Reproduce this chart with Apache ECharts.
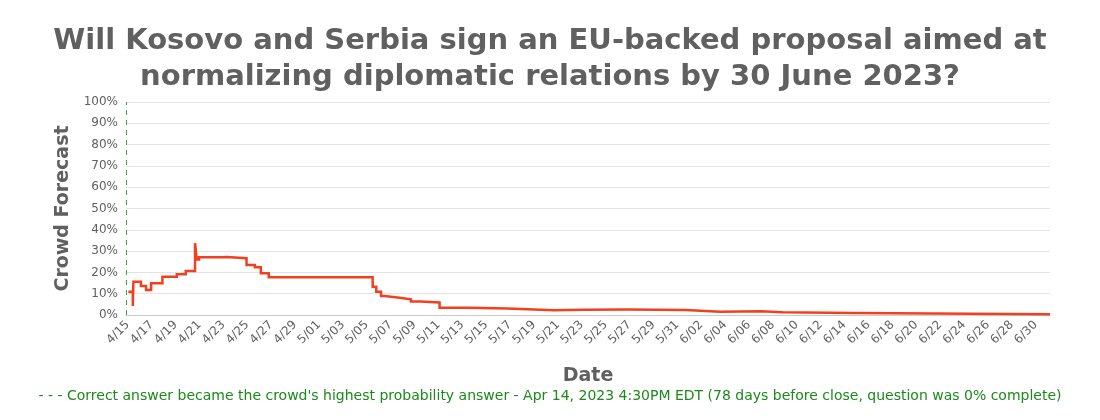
<!DOCTYPE html><html><head><meta charset="utf-8">
<script src="https://cdn.jsdelivr.net/npm/echarts@6/dist/echarts.min.js"></script>
<style>html,body{margin:0;padding:0;}#c{width:1100px;height:420px;}</style></head><body><div id="c"></div>
<script>
// day offsets from Apr 15 (0 = 4/15 00:00) at which the forecast changes
const days = [0.05,0.42,0.47,1.1,1.53,1.95,2.9,4.1,4.85,5.63,5.77,5.96,8.0,8.27,9.94,10.64,11.14,11.8,20.5,20.8,21.2,21.5,22.75,23.7,24.5,26.1,28.5,31.8,35.7,38.2,41.9,46.7,49.6,53.0,54.8,60.7,77.2];
const forecast = [10.9,4.2,15.6,13.6,11.7,14.9,18.0,19.1,20.7,33.7,26.1,27.1,27.2,26.7,23.5,22.4,19.6,17.7,13.3,10.9,8.9,8.1,7.4,6.3,5.9,3.4,3.1,2.2,2.5,2.6,2.3,1.5,1.8,1.3,0.9,0.4,0.3];
const tickDays = [];for(let d=0;d<=76;d+=2)tickDays.push(d);
const markDay=-0.15;
function dayLabel(v){const dt=new Date(Date.UTC(2023,3,15)+Math.round(v)*86400000);return (dt.getUTCMonth()+1)+'/'+String(dt.getUTCDate()).padStart(2,'0');}
const stepData=[[days[0],forecast[0]]];
for(let i=1;i<days.length;i++){stepData.push([days[i],forecast[i-1]]);stepData.push([days[i],forecast[i]]);}
const chart=echarts.init(document.getElementById('c'));
chart.setOption({
 animation:false,
 title:{text:'Will Kosovo and Serbia sign an EU-backed proposal aimed at\nnormalizing diplomatic relations by 30 June 2023?',left:'center',top:18,textStyle:{fontFamily:'DejaVu Sans',fontSize:29,fontWeight:'bold',color:'#606060',lineHeight:36}},
 graphic:[{type:'text',left:'center',top:389,style:{text:"- - - Correct answer became the crowd's highest probability answer - Apr 14, 2023 4:30PM EDT (78 days before close, question was 0% complete)",fill:'#1a8a1a',font:'14px DejaVu Sans'}}],
 grid:{left:126,right:50,top:102,bottom:105},
 xAxis:{type:'value',min:-0.15,max:77.2,name:'Date',nameLocation:'middle',nameGap:52,nameTextStyle:{fontFamily:'DejaVu Sans',fontSize:19,fontWeight:'bold',color:'#606060'},
  splitLine:{show:false},axisLine:{show:true,lineStyle:{color:'#ccc'}},axisTick:{show:false},
  axisLabel:{customValues:tickDays,rotate:45,formatter:dayLabel,color:'#606060',fontFamily:'DejaVu Sans',fontSize:12,margin:8}},
 yAxis:{type:'value',min:0,max:100,interval:10,name:'Crowd Forecast',nameLocation:'middle',nameGap:48,nameTextStyle:{fontFamily:'DejaVu Sans',fontSize:19,fontWeight:'bold',color:'#606060'},
  axisLabel:{formatter:v=>v+'%',color:'#606060',fontFamily:'DejaVu Sans',fontSize:12},splitLine:{lineStyle:{color:'#e3e3e3'}},axisLine:{show:false},axisTick:{show:false}},
 series:[{type:'line',data:stepData,symbol:'none',sampling:null,lineStyle:{color:'#f04020',width:2.5,join:'miter'},
  markLine:{symbol:'none',silent:true,label:{show:false},lineStyle:{color:'#3aa83a',type:[5,5],width:1},data:[{xAxis:markDay}]}}]
});
</script></body></html>
